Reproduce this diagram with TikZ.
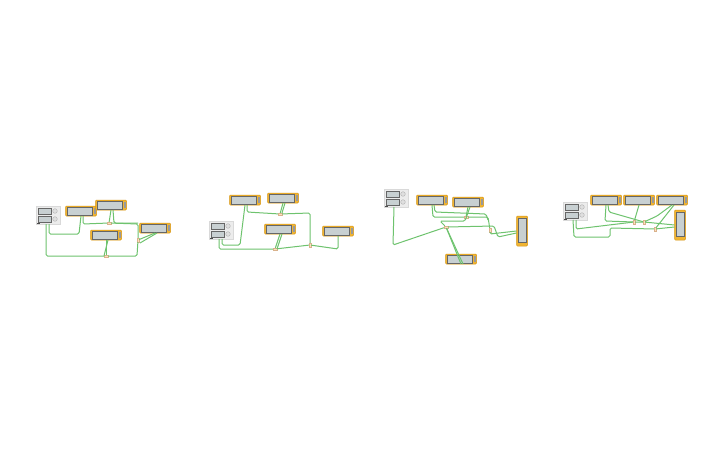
\documentclass[tikz,border=0pt]{standalone}
\definecolor{wirec}{RGB}{110,195,110}
\definecolor{bodyc}{RGB}{240,180,50}
\definecolor{bodyd}{RGB}{215,150,20}
\definecolor{scrc}{RGB}{200,208,210}
\begin{document}
\begin{tikzpicture}[x=1pt,y=-1pt,
  wire/.style={draw=wirec, line width=1pt, rounded corners=1.5pt},
  body/.style={draw=bodyd, fill=bodyc, rounded corners=1pt, line width=0.5pt},
  scr/.style={draw=black!60, fill=scrc, line width=0.4pt},
  res/.style={draw=brown!60, fill=orange!25, minimum width=4pt, minimum height=2pt, inner sep=0pt, line width=0.3pt},
  psu/.pic={
    \path[fill=gray!15, draw=gray!30] (-12,-9) rectangle (12,9);
    \path[scr] (-10,-7) rectangle (3,-1);
    \path[scr] (-10,1) rectangle (3,7);
    \path[draw=gray!60, fill=gray!25] (7,-4) circle (2.3);
    \path[draw=gray!60, fill=gray!25] (7,4) circle (2.3);
    \path[fill=black!70] (-11,7.5) rectangle (-8,9);
    \coordinate (-a) at (-2,9);
    \coordinate (-b) at (1,9);
  },
  disp/.pic={
    \path[body] (-15.5,-5) rectangle (15.5,5);
    \path[scr] (-14,-3.8) rectangle (11,3.8);
    \path[fill=black!40] (13,-3) rectangle (14.5,3);
    \coordinate (-a) at (0,5);
    \coordinate (-b) at (2,5);
  },
  vdisp/.pic={
    \path[body] (-5.5,-15) rectangle (5.5,15);
    \path[scr] (-4,-13) rectangle (4,11);
    \coordinate (-a) at (-5.5,0);
    \coordinate (-b) at (-5.5,2);
  }]
\path[fill=white] (0,0) rectangle (725,453);

% group 1
\pic (p1) at (48,215) {psu};
\pic (a1) at (81,211) {disp};
\pic (b1) at (111,205) {disp};
\pic (c1) at (106,235) {disp};
\pic (d1) at (155,228) {disp};
\node[res] (r1a) at (109,223) {};
\node[res] (r1b) at (106,256) {};
\node[res, rotate=90] (r1c) at (138,240) {};
\draw[wire] (p1-b) -- (49,234) -- (79,234) -- (a1-a);
\draw[wire] (p1-a) -- (46,256) -- (r1b) -- (137,256) -- (r1c) -- (138,224) -- (r1a);
\draw[wire] (a1-b) -- (83,224) -- (r1a);
\draw[wire] (b1-a) -- (r1a);
\draw[wire] (b1-b) -- (114,223) -- (138,223);
\draw[wire] (c1-a) -- (r1b);
\draw[wire] (c1-b) -- (104,256);
\draw[wire] (d1-a) -- (r1c);
\draw[wire] (d1-b) -- (140,243);

% group 2
\pic (p2) at (221,230) {psu};
\pic (e2) at (245,200) {disp};
\pic (f2) at (283,198) {disp};
\pic (g2) at (280,229) {disp};
\pic (h2) at (338,231) {disp};
\node[res] (r2a) at (280,214) {};
\node[res] (r2b) at (275,249) {};
\node[res, rotate=90] (r2c) at (310,245) {};
\draw[wire] (p2-b) -- (222,245) -- (240,245) -- (e2-a);
\draw[wire] (p2-a) -- (219,249) -- (r2b) -- (r2c) -- (338,249) -- (h2-a);
\draw[wire] (e2-b) -- (247,212) -- (r2a) -- (310,213) -- (r2c);
\draw[wire] (f2-a) -- (r2a);
\draw[wire] (f2-b) -- (282,213);
\draw[wire] (g2-a) -- (r2b);
\draw[wire] (g2-b) -- (277,249);

% group 3
\pic (p3) at (396,198) {psu};
\pic (i3) at (432,200) {disp};
\pic (j3) at (468,202) {disp};
\pic (k3) at (522,231) {vdisp};
\pic (l3) at (461,259) {disp};
\node[res] (r3a) at (446,227) {};
\node[res] (r3b) at (466,217) {};
\node[res, rotate=90] (r3c) at (490,230) {};
\draw[wire] (p3-a) -- (393,245) -- (r3a) -- (l3-a);
\draw[wire] (r3a) -- (l3-b);
\draw[wire] (i3-a) -- (433,217) -- (r3b) -- (488,217) -- (r3c) -- (490,234) -- (k3-a);
\draw[wire] (i3-b) -- (435,212) -- (486,214) -- (488,220);
\draw[wire] (j3-a) -- (r3b);
\draw[wire] (j3-b) -- (465,221) -- (440,221) -- (r3a);
\draw[wire] (r3a) -- (494,226) -- (498,237) -- (k3-b);

% group 4
\pic (p4) at (575,211) {psu};
\pic (m4) at (606,200) {disp};
\pic (n4) at (639,200) {disp};
\pic (o4) at (672,200) {disp};
\pic (q4) at (680,225) {vdisp};
\node[res, rotate=90] (r4a) at (634,222) {};
\node[res, rotate=90] (r4b) at (644,222) {};
\node[res, rotate=90] (r4c) at (655,229) {};
\draw[wire] (p4-a) -- (574,237) -- (610,237) -- (610,228) -- (r4c) -- (q4-b);
\draw[wire] (p4-b) -- (576,229) -- (r4a);
\draw[wire] (m4-a) -- (605,221) -- (r4a) -- (r4b) -- (q4-a);
\draw[wire] (m4-b) -- (609,212) -- (r4b);
\draw[wire] (n4-a) -- (r4a);
\draw[wire] (o4-a) -- (657,216) -- (r4b);
\draw[wire] (o4-b) -- (r4c);
\end{tikzpicture}
\end{document}
